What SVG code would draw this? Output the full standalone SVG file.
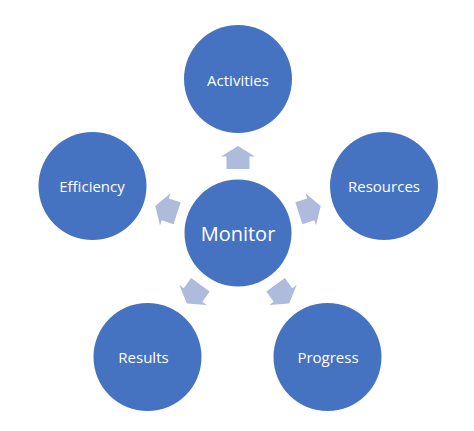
<svg xmlns="http://www.w3.org/2000/svg" width="474" height="431" viewBox="0 0 474 431">
<defs>
<style>
.node circle{fill:#4672C2;}
.node text{fill:#FFFFFF;font-family:"Open Sans","Liberation Sans",sans-serif;font-size:15px;text-anchor:middle;}
.arrow{fill:#AEBBDC;}
</style>
<path id="arr" d="M0,-11.5 L17,-1 L11.5,-1 L11.5,11.5 L-11.5,11.5 L-11.5,-1 L-17,-1 Z"/>
</defs>
<rect width="474" height="431" fill="#FFFFFF"/>
<g id="connectors" class="arrow">
<use href="#arr" transform="translate(238,233) rotate(0) translate(0,-75.5)"/>
<use href="#arr" transform="translate(238,233) rotate(72) translate(0,-75.5)"/>
<use href="#arr" transform="translate(238,233) rotate(144) translate(0,-75.5)"/>
<use href="#arr" transform="translate(238,233) rotate(-144) translate(0,-75.5)"/>
<use href="#arr" transform="translate(238,233) rotate(-72) translate(0,-75.5)"/>
</g>
<g id="monitor" class="node"><circle cx="238" cy="233" r="53.5"/><text x="238" y="240.5" style="font-size:20px">Monitor</text></g>
<g id="activities" class="node"><circle cx="238" cy="79" r="54"/><text x="238" y="86">Activities</text></g>
<g id="resources" class="node"><circle cx="384" cy="186" r="54"/><text x="384" y="191.5">Resources</text></g>
<g id="progress" class="node"><circle cx="327.5" cy="357" r="54"/><text x="328" y="362.5">Progress</text></g>
<g id="results" class="node"><circle cx="147.5" cy="357" r="54"/><text x="143.5" y="362.5">Results</text></g>
<g id="efficiency" class="node"><circle cx="92.5" cy="186" r="54"/><text x="92" y="191.5">Efficiency</text></g>
</svg>
